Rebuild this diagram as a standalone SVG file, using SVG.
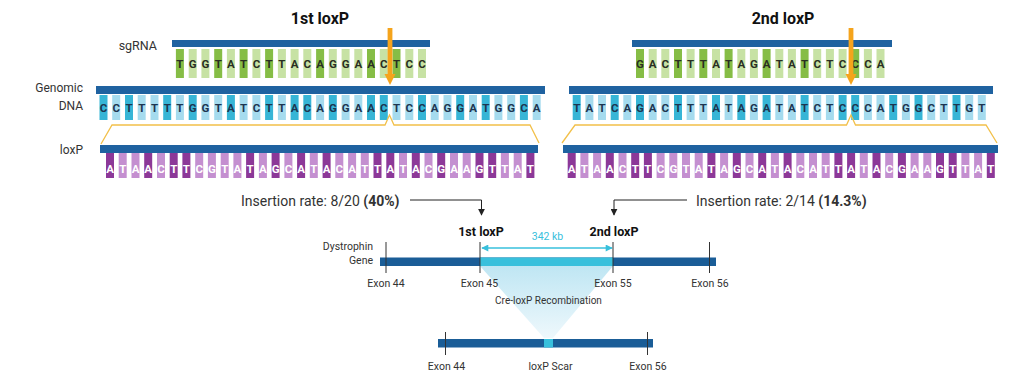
<svg xmlns="http://www.w3.org/2000/svg" width="1024" height="383" viewBox="0 0 1024 383">
<defs>
<style>
text{font-family:Roboto,"Liberation Sans",sans-serif;fill:#333}
.ttl{font-size:16px;font-weight:700;fill:#111;text-anchor:middle}
.lbl{font-size:12px;text-anchor:end}
.bar{fill:#1f62a0}
.gd{fill:#86bd46}.gl{fill:#c7e2a4}
.cd{fill:#37b5d6}.cl{fill:#a5dbee}
.pd{fill:#8c3898}.pl{fill:#c48fd0}
.seq{font-size:11.5px;font-weight:700;text-anchor:middle}
.sg{fill:#2a2f22}.gn{fill:#1d3550}.lp{fill:#fff}
.brk{fill:none;stroke:#f2c04a;stroke-width:1.3}
.org{fill:#f5a41c}
.ln{fill:none;stroke:#222;stroke-width:1}
.sm{font-size:10.5px;text-anchor:middle}
.gene{fill:#1a5d97}
.cyan{fill:#38c0dc}
.tick{stroke:#333;stroke-width:1}
</style>
<marker id="ah" viewBox="0 0 10 10" refX="9" refY="5" markerWidth="7" markerHeight="7" orient="auto-start-reverse" markerUnits="userSpaceOnUse"><path d="M0,0 L10,5 L0,10 z" fill="#222"/></marker>
<marker id="ahc" viewBox="0 0 10 10" refX="9" refY="5" markerWidth="8" markerHeight="7" orient="auto-start-reverse" markerUnits="userSpaceOnUse"><path d="M0,0 L10,5 L0,10 z" fill="#38c0dc"/></marker>
<linearGradient id="tri" x1="0" y1="0" x2="0" y2="1"><stop offset="0" stop-color="#bfe6f3"/><stop offset="1" stop-color="#eef8fc"/></linearGradient>
</defs>

<g id="titles">
<text class="ttl" x="320" y="24">1st loxP</text>
<text class="ttl" x="783" y="24">2nd loxP</text>
</g>

<g id="row-labels">
<text class="lbl" x="157" y="50" style="font-size:12.5px">sgRNA</text>
<text class="lbl" x="83" y="92">Genomic</text>
<text class="lbl" x="83" y="110">DNA</text>
<text class="lbl" x="83" y="154">loxP</text>
</g>

<g id="left-sgrna">
<rect class="bar" x="172" y="40" width="258" height="7"/>
<rect class="gd" x="175.9" y="49" width="8" height="29"/><rect class="gl" x="188.7" y="49" width="8" height="29"/><rect class="gl" x="201.4" y="49" width="8" height="29"/><rect class="gd" x="214.2" y="49" width="8" height="29"/><rect class="gl" x="226.9" y="49" width="8" height="29"/><rect class="gd" x="239.6" y="49" width="8" height="29"/><rect class="gl" x="252.4" y="49" width="8" height="29"/><rect class="gd" x="265.1" y="49" width="8" height="29"/><rect class="gl" x="277.9" y="49" width="8" height="29"/><rect class="gl" x="290.6" y="49" width="8" height="29"/><rect class="gl" x="303.3" y="49" width="8" height="29"/><rect class="gd" x="316.1" y="49" width="8" height="29"/><rect class="gl" x="328.8" y="49" width="8" height="29"/><rect class="gl" x="341.6" y="49" width="8" height="29"/><rect class="gl" x="354.3" y="49" width="8" height="29"/><rect class="gd" x="367.0" y="49" width="8" height="29"/><rect class="gl" x="379.8" y="49" width="8" height="29"/><rect class="gd" x="392.5" y="49" width="8" height="29"/><rect class="gl" x="405.3" y="49" width="8" height="29"/><rect class="gl" x="418.0" y="49" width="8" height="29"/>
<text class="seq sg" y="68" x="179.9 192.7 205.4 218.2 230.9 243.6 256.4 269.1 281.9 294.6 307.3 320.1 332.8 345.6 358.3 371.0 383.8 396.5 409.3 422.0">TGGTATCTTACAGGAACTCC</text>
</g>

<g id="left-genomic">
<rect class="bar" x="96" y="86" width="449" height="8"/>
<rect class="cd" x="99.5" y="95" width="8" height="25"/><rect class="cl" x="112.2" y="95" width="8" height="25"/><rect class="cd" x="125.0" y="95" width="8" height="25"/><rect class="cl" x="137.7" y="95" width="8" height="25"/><rect class="cl" x="150.5" y="95" width="8" height="25"/><rect class="cd" x="163.2" y="95" width="8" height="25"/><rect class="cl" x="175.9" y="95" width="8" height="25"/><rect class="cd" x="188.7" y="95" width="8" height="25"/><rect class="cl" x="201.4" y="95" width="8" height="25"/><rect class="cl" x="214.2" y="95" width="8" height="25"/><rect class="cd" x="226.9" y="95" width="8" height="25"/><rect class="cl" x="239.6" y="95" width="8" height="25"/><rect class="cl" x="252.4" y="95" width="8" height="25"/><rect class="cd" x="265.1" y="95" width="8" height="25"/><rect class="cl" x="277.9" y="95" width="8" height="25"/><rect class="cd" x="290.6" y="95" width="8" height="25"/><rect class="cd" x="303.3" y="95" width="8" height="25"/><rect class="cl" x="316.1" y="95" width="8" height="25"/><rect class="cd" x="328.8" y="95" width="8" height="25"/><rect class="cl" x="341.6" y="95" width="8" height="25"/><rect class="cl" x="354.3" y="95" width="8" height="25"/><rect class="cd" x="367.0" y="95" width="8" height="25"/><rect class="cd" x="379.8" y="95" width="8" height="25"/><rect class="cl" x="392.5" y="95" width="8" height="25"/><rect class="cl" x="405.3" y="95" width="8" height="25"/><rect class="cd" x="418.0" y="95" width="8" height="25"/><rect class="cl" x="430.7" y="95" width="8" height="25"/><rect class="cl" x="443.5" y="95" width="8" height="25"/><rect class="cd" x="456.2" y="95" width="8" height="25"/><rect class="cl" x="469.0" y="95" width="8" height="25"/><rect class="cd" x="481.7" y="95" width="8" height="25"/><rect class="cl" x="494.4" y="95" width="8" height="25"/><rect class="cl" x="507.2" y="95" width="8" height="25"/><rect class="cd" x="519.9" y="95" width="8" height="25"/><rect class="cl" x="532.7" y="95" width="8" height="25"/>
<text class="seq gn" y="111.5" x="103.5 116.2 129.0 141.7 154.5 167.2 179.9 192.7 205.4 218.2 230.9 243.6 256.4 269.1 281.9 294.6 307.3 320.1 332.8 345.6 358.3 371.0 383.8 396.5 409.3 422.0 434.7 447.5 460.2 473.0 485.7 498.4 511.2 523.9 536.7">CCTTTTTGGTATCTTACAGGAACTCCAGGATGGCA</text>
</g>

<g id="left-loxp">
<rect class="bar" x="100" y="145" width="438" height="8"/>
<rect class="pd" x="106.0" y="153" width="8" height="25"/><rect class="pl" x="118.7" y="153" width="8" height="25"/><rect class="pl" x="131.5" y="153" width="8" height="25"/><rect class="pd" x="144.2" y="153" width="8" height="25"/><rect class="pl" x="157.0" y="153" width="8" height="25"/><rect class="pd" x="169.7" y="153" width="8" height="25"/><rect class="pd" x="182.4" y="153" width="8" height="25"/><rect class="pl" x="195.2" y="153" width="8" height="25"/><rect class="pl" x="207.9" y="153" width="8" height="25"/><rect class="pl" x="220.7" y="153" width="8" height="25"/><rect class="pl" x="233.4" y="153" width="8" height="25"/><rect class="pd" x="246.1" y="153" width="8" height="25"/><rect class="pl" x="258.9" y="153" width="8" height="25"/><rect class="pd" x="271.6" y="153" width="8" height="25"/><rect class="pl" x="284.4" y="153" width="8" height="25"/><rect class="pd" x="297.1" y="153" width="8" height="25"/><rect class="pl" x="309.8" y="153" width="8" height="25"/><rect class="pd" x="322.6" y="153" width="8" height="25"/><rect class="pl" x="335.3" y="153" width="8" height="25"/><rect class="pl" x="348.1" y="153" width="8" height="25"/><rect class="pl" x="360.8" y="153" width="8" height="25"/><rect class="pd" x="373.5" y="153" width="8" height="25"/><rect class="pd" x="386.3" y="153" width="8" height="25"/><rect class="pl" x="399.0" y="153" width="8" height="25"/><rect class="pd" x="411.8" y="153" width="8" height="25"/><rect class="pl" x="424.5" y="153" width="8" height="25"/><rect class="pd" x="437.2" y="153" width="8" height="25"/><rect class="pl" x="450.0" y="153" width="8" height="25"/><rect class="pl" x="462.7" y="153" width="8" height="25"/><rect class="pd" x="475.5" y="153" width="8" height="25"/><rect class="pd" x="488.2" y="153" width="8" height="25"/><rect class="pl" x="500.9" y="153" width="8" height="25"/><rect class="pl" x="513.7" y="153" width="8" height="25"/><rect class="pd" x="526.4" y="153" width="8" height="25"/>
<text class="seq lp" y="173" x="110.0 122.7 135.5 148.2 161.0 173.7 186.4 199.2 211.9 224.7 237.4 250.1 262.9 275.6 288.4 301.1 313.8 326.6 339.3 352.1 364.8 377.5 390.3 403.0 415.8 428.5 441.2 454.0 466.7 479.5 492.2 504.9 517.7 530.4">ATAACTTCGTATAGCATACATTATACGAAGTTAT</text>
</g>

<g id="right-sgrna">
<rect class="bar" x="632" y="40" width="260" height="7"/>
<rect class="gd" x="636.0" y="49" width="8" height="29"/><rect class="gl" x="648.7" y="49" width="8" height="29"/><rect class="gl" x="661.3" y="49" width="8" height="29"/><rect class="gd" x="674.0" y="49" width="8" height="29"/><rect class="gl" x="686.6" y="49" width="8" height="29"/><rect class="gd" x="699.3" y="49" width="8" height="29"/><rect class="gl" x="712.0" y="49" width="8" height="29"/><rect class="gd" x="724.6" y="49" width="8" height="29"/><rect class="gl" x="737.3" y="49" width="8" height="29"/><rect class="gl" x="749.9" y="49" width="8" height="29"/><rect class="gd" x="762.6" y="49" width="8" height="29"/><rect class="gl" x="775.3" y="49" width="8" height="29"/><rect class="gl" x="787.9" y="49" width="8" height="29"/><rect class="gd" x="800.6" y="49" width="8" height="29"/><rect class="gl" x="813.2" y="49" width="8" height="29"/><rect class="gl" x="825.9" y="49" width="8" height="29"/><rect class="gl" x="838.6" y="49" width="8" height="29"/><rect class="gd" x="851.2" y="49" width="8" height="29"/><rect class="gl" x="863.9" y="49" width="8" height="29"/><rect class="gl" x="876.5" y="49" width="8" height="29"/>
<text class="seq sg" y="68" x="640.0 652.7 665.3 678.0 690.6 703.3 716.0 728.6 741.3 753.9 766.6 779.3 791.9 804.6 817.2 829.9 842.6 855.2 867.9 880.5">GACTTTATAGATATCTCCCA</text>
</g>

<g id="right-genomic">
<rect class="bar" x="569" y="86" width="424" height="8"/>
<rect class="cd" x="572.7" y="95" width="8" height="25"/><rect class="cl" x="585.4" y="95" width="8" height="25"/><rect class="cl" x="598.0" y="95" width="8" height="25"/><rect class="cd" x="610.7" y="95" width="8" height="25"/><rect class="cl" x="623.3" y="95" width="8" height="25"/><rect class="cd" x="636.0" y="95" width="8" height="25"/><rect class="cl" x="648.7" y="95" width="8" height="25"/><rect class="cl" x="661.3" y="95" width="8" height="25"/><rect class="cd" x="674.0" y="95" width="8" height="25"/><rect class="cl" x="686.6" y="95" width="8" height="25"/><rect class="cl" x="699.3" y="95" width="8" height="25"/><rect class="cd" x="712.0" y="95" width="8" height="25"/><rect class="cl" x="724.6" y="95" width="8" height="25"/><rect class="cd" x="737.3" y="95" width="8" height="25"/><rect class="cl" x="749.9" y="95" width="8" height="25"/><rect class="cd" x="762.6" y="95" width="8" height="25"/><rect class="cl" x="775.3" y="95" width="8" height="25"/><rect class="cl" x="787.9" y="95" width="8" height="25"/><rect class="cd" x="800.6" y="95" width="8" height="25"/><rect class="cl" x="813.2" y="95" width="8" height="25"/><rect class="cl" x="825.9" y="95" width="8" height="25"/><rect class="cd" x="838.6" y="95" width="8" height="25"/><rect class="cd" x="851.2" y="95" width="8" height="25"/><rect class="cl" x="863.9" y="95" width="8" height="25"/><rect class="cl" x="876.5" y="95" width="8" height="25"/><rect class="cd" x="889.2" y="95" width="8" height="25"/><rect class="cl" x="901.9" y="95" width="8" height="25"/><rect class="cd" x="914.5" y="95" width="8" height="25"/><rect class="cl" x="927.2" y="95" width="8" height="25"/><rect class="cl" x="939.8" y="95" width="8" height="25"/><rect class="cd" x="952.5" y="95" width="8" height="25"/><rect class="cl" x="965.2" y="95" width="8" height="25"/><rect class="cl" x="977.8" y="95" width="8" height="25"/>
<text class="seq gn" y="111.5" x="576.7 589.4 602.0 614.7 627.3 640.0 652.7 665.3 678.0 690.6 703.3 716.0 728.6 741.3 753.9 766.6 779.3 791.9 804.6 817.2 829.9 842.6 855.2 867.9 880.5 893.2 905.9 918.5 931.2 943.8 956.5 969.2 981.8">TATCAGACTTTATAGATATCTCCCATGGCTTGT</text>
</g>

<g id="right-loxp">
<rect class="bar" x="563" y="145" width="435" height="8"/>
<rect class="pd" x="567.7" y="153" width="8" height="25"/><rect class="pl" x="580.4" y="153" width="8" height="25"/><rect class="pl" x="593.1" y="153" width="8" height="25"/><rect class="pd" x="605.8" y="153" width="8" height="25"/><rect class="pl" x="618.5" y="153" width="8" height="25"/><rect class="pd" x="631.2" y="153" width="8" height="25"/><rect class="pd" x="643.9" y="153" width="8" height="25"/><rect class="pl" x="656.6" y="153" width="8" height="25"/><rect class="pl" x="669.3" y="153" width="8" height="25"/><rect class="pl" x="682.0" y="153" width="8" height="25"/><rect class="pl" x="694.7" y="153" width="8" height="25"/><rect class="pd" x="707.4" y="153" width="8" height="25"/><rect class="pl" x="720.1" y="153" width="8" height="25"/><rect class="pd" x="732.8" y="153" width="8" height="25"/><rect class="pl" x="745.5" y="153" width="8" height="25"/><rect class="pd" x="758.2" y="153" width="8" height="25"/><rect class="pl" x="770.9" y="153" width="8" height="25"/><rect class="pd" x="783.6" y="153" width="8" height="25"/><rect class="pl" x="796.3" y="153" width="8" height="25"/><rect class="pl" x="809.0" y="153" width="8" height="25"/><rect class="pl" x="821.7" y="153" width="8" height="25"/><rect class="pd" x="834.4" y="153" width="8" height="25"/><rect class="pd" x="847.1" y="153" width="8" height="25"/><rect class="pl" x="859.8" y="153" width="8" height="25"/><rect class="pd" x="872.5" y="153" width="8" height="25"/><rect class="pl" x="885.2" y="153" width="8" height="25"/><rect class="pd" x="897.9" y="153" width="8" height="25"/><rect class="pl" x="910.6" y="153" width="8" height="25"/><rect class="pl" x="923.3" y="153" width="8" height="25"/><rect class="pd" x="936.0" y="153" width="8" height="25"/><rect class="pd" x="948.7" y="153" width="8" height="25"/><rect class="pl" x="961.4" y="153" width="8" height="25"/><rect class="pl" x="974.1" y="153" width="8" height="25"/><rect class="pd" x="986.8" y="153" width="8" height="25"/>
<text class="seq lp" y="173" x="571.7 584.4 597.1 609.8 622.5 635.2 647.9 660.6 673.3 686.0 698.7 711.4 724.1 736.8 749.5 762.2 774.9 787.6 800.3 813.0 825.7 838.4 851.1 863.8 876.5 889.2 901.9 914.6 927.3 940.0 952.7 965.4 978.1 990.8">ATAACTTCGTATAGCATACATTATACGAAGTTAT</text>
</g>

<g id="cut-arrows">
<rect class="org" x="387.6" y="28" width="4.8" height="48"/>
<path class="org" d="M384.5,74 L395.5,74 L390,85 z"/>
<rect class="org" x="848.6" y="28" width="4.8" height="48"/>
<path class="org" d="M845.5,74 L856.5,74 L851,85 z"/>
</g>

<g id="brackets">
<polyline class="brk" points="101,144 112,125 385,125 389.5,115 394,125 530,125 539,143"/>
<polyline class="brk" points="562,143 575,125 846.5,125 851,115 855.5,125 986,125 997,143"/>
</g>

<g id="insertion-labels">
<text x="241" y="206" style="font-size:14px">Insertion rate: 8/20 <tspan style="font-weight:700">(40%)</tspan></text>
<text x="696" y="206" style="font-size:14px">Insertion rate: 2/14 <tspan style="font-weight:700">(14.3%)</tspan></text>
<text x="481" y="236" style="font-size:12.5px;font-weight:700;fill:#111;text-anchor:middle">1st loxP</text>
<text x="614" y="236" style="font-size:12.5px;font-weight:700;fill:#111;text-anchor:middle">2nd loxP</text>
</g>

<g id="connectors">
<polyline class="ln" points="410,200 481.5,200 481.5,215" marker-end="url(#ah)"/>
<polyline class="ln" points="687,200 614,200 614,215" marker-end="url(#ah)"/>
<line x1="482" y1="248" x2="612" y2="248" stroke="#38c0dc" stroke-width="1.3" marker-start="url(#ahc)" marker-end="url(#ahc)"/>
<line class="ln" x1="548.5" y1="271" x2="548.5" y2="292"/>
<line class="ln" x1="548.5" y1="309" x2="548.5" y2="331" marker-end="url(#ah)"/>
</g>

<g id="recombination-shade">
<polygon points="480,266 613,266 553,338 544,338" fill="url(#tri)"/>
</g>

<g id="gene">
<rect class="gene" x="380" y="257.5" width="336" height="8.5"/>
<rect class="cyan" x="480" y="257.5" width="133" height="8.5"/>
<line class="tick" x1="386" y1="242" x2="386" y2="273"/>
<line class="tick" x1="480" y1="242" x2="480" y2="273"/>
<line class="tick" x1="613" y1="242" x2="613" y2="273"/>
<line class="tick" x1="709.5" y1="242" x2="709.5" y2="273"/>
<text x="373" y="250" style="font-size:10.5px;text-anchor:end">Dystrophin</text>
<text x="373" y="264" style="font-size:10.5px;text-anchor:end">Gene</text>
<text class="sm" x="386" y="287">Exon 44</text>
<text class="sm" x="479.5" y="287">Exon 45</text>
<text class="sm" x="613" y="287">Exon 55</text>
<text class="sm" x="710" y="287">Exon 56</text>
<text x="547.5" y="240" style="font-size:10.5px;fill:#38c0dc;text-anchor:middle">342 kb</text>
</g>

<g id="recombination-label">
<text x="548.5" y="304" style="font-size:10px;text-anchor:middle">Cre-loxP Recombination</text>
</g>

<g id="deleted-gene">
<rect class="gene" x="438" y="339" width="215" height="8.5"/>
<rect class="cyan" x="544" y="339" width="9" height="8.5"/>
<line class="tick" x1="445.5" y1="332" x2="445.5" y2="355"/>
<line class="tick" x1="647.5" y1="332" x2="647.5" y2="355"/>
<text class="sm" x="446.5" y="370">Exon 44</text>
<text class="sm" x="550.5" y="370">loxP Scar</text>
<text class="sm" x="648" y="370">Exon 56</text>
</g>
</svg>
